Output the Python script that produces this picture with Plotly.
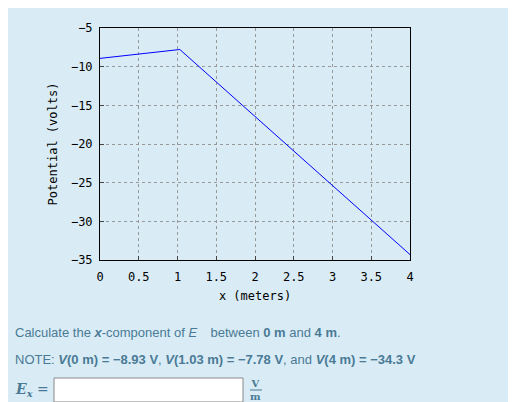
import plotly.graph_objects as go

x_vals = [0, 1.03, 4]
v_vals = [-8.93, -7.78, -34.3]
x_ticks = [0, 0.5, 1, 1.5, 2, 2.5, 3, 3.5, 4]
x_tick_text = ["0", "0.5", "1", "1.5", "2", "2.5", "3", "3.5", "4"]
y_ticks = [-35, -30, -25, -20, -15, -10, -5]

BG = "#d9ecf5"
TXT = "#4a7a96"
L, R, T, B = 92, 402, 20, 252
W, H = R - L, B - T

def px(x): return (x - L) / W
def py(y): return (B - y) / H

fig = go.Figure(go.Scatter(x=x_vals, y=v_vals, mode="lines",
                           line=dict(color="#0000ff", width=1), hoverinfo="skip"))
mono = dict(family="DejaVu Sans Mono", size=12, color="black")
fig.update_xaxes(range=[0, 4], tickvals=x_ticks, ticktext=x_tick_text, tickfont=mono,
                 showgrid=True, gridcolor="#999999", griddash="dot", gridwidth=1,
                 showline=True, linecolor="black", mirror=True, ticks="inside", ticklen=4,
                 ticklabelstandoff=6,
                 zeroline=False, title=dict(text="x (meters)", font=mono, standoff=8))
fig.update_yaxes(range=[-35, -5], tickvals=y_ticks, tickfont=mono,
                 showgrid=True, gridcolor="#999999", griddash="dot", gridwidth=1,
                 showline=True, linecolor="black", mirror=True, ticks="inside", ticklen=4,
                 ticklabelstandoff=4,
                 zeroline=False, title=dict(text="Potential (volts)", font=mono, standoff=10))

sans = dict(family="Liberation Sans", size=13, color=TXT)
ann = []
ann.append(dict(x=px(5), y=py(324), xref="paper", yref="paper", xanchor="left", yanchor="middle",
                showarrow=False, font=sans,
                text="Calculate the <b><i>x</i></b>-component of <i>E\u20d7</i> between <b>0 m</b> and <b>4 m</b>."))
ann.append(dict(x=px(5), y=py(352), xref="paper", yref="paper", xanchor="left", yanchor="middle",
                showarrow=False, font=sans,
                text="NOTE: <b><i>V</i>(0 m) = −8.93 V</b>, <b><i>V</i>(1.03 m) = −7.78 V</b>, and <b><i>V</i>(4 m) = −34.3 V</b>"))
ann.append(dict(x=px(5), y=py(382), xref="paper", yref="paper", xanchor="left", yanchor="middle",
                showarrow=False, font=dict(family="DejaVu Serif", size=14, color=TXT),
                text="<b><i>E<sub>x</sub></i></b> ="))
ann.append(dict(x=px(248), y=py(382), xref="paper", yref="paper", xanchor="center", yanchor="middle",
                showarrow=False, font=dict(family="DejaVu Serif", size=10, color=TXT),
                text="<b>V</b><br><b>m</b>"))
shapes = [
    dict(type="rect", xref="paper", yref="paper", x0=px(46), x1=px(235), y0=py(394), y1=py(370),
         fillcolor="white", line=dict(color="#888888", width=1)),
    dict(type="line", xref="paper", yref="paper", x0=px(242), x1=px(254), y0=py(382), y1=py(382),
         line=dict(color=TXT, width=1)),
]
fig.update_layout(width=516, height=402,
                  margin=dict(l=L, r=516 - R, t=T, b=402 - B, autoexpand=False),
                  paper_bgcolor=BG, plot_bgcolor=BG, showlegend=False,
                  annotations=ann, shapes=shapes)
fig.write_html("out.html")
